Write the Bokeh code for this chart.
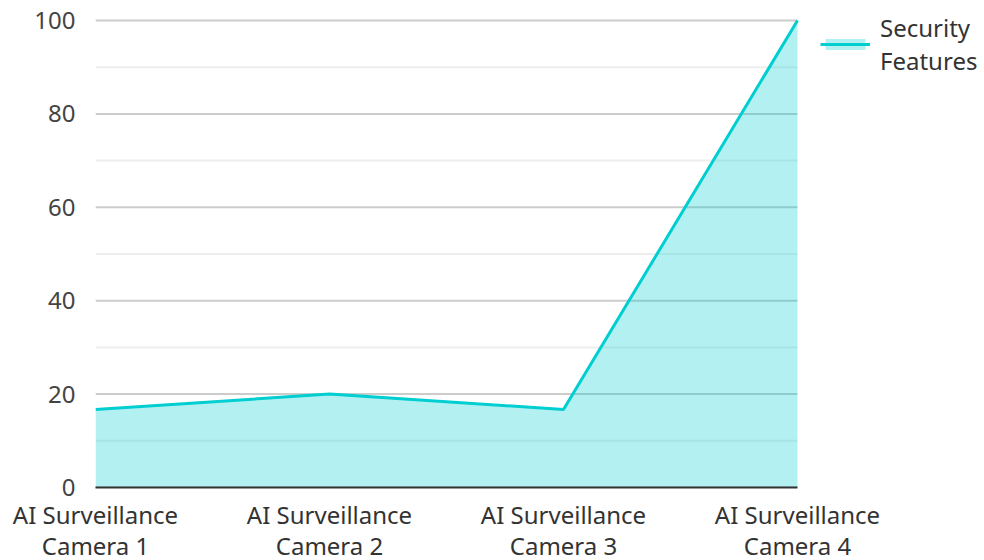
from bokeh.plotting import figure
from bokeh.models import ColumnDataSource, Legend, LegendItem, FixedTicker, Range1d
from bokeh.embed import file_html
from bokeh.resources import INLINE

categories = ["AI Surveillance\nCamera 1", "AI Surveillance\nCamera 2",
              "AI Surveillance\nCamera 3", "AI Surveillance\nCamera 4"]
values = [16.7, 20.0, 16.7, 100.0]
series_name = "Security\nFeatures"
y_ticks = [0, 20, 40, 60, 80, 100]
y_minor = [10, 30, 50, 70, 90]

xs = list(range(len(categories)))
src = ColumnDataSource(dict(x=xs, y=values, y0=[0] * len(values)))

FONT = "Noto Sans"
PLOT_W = 702          # width of the data area in px
EXTRA_W = 187         # room on the right for the legend, in px
PLOT_H = 467          # height of the data area in px
EXTRA_H = 20          # room above the data area (legend headroom), in px
x_end = xs[-1] + (xs[-1] - xs[0]) * EXTRA_W / PLOT_W
y_end = y_ticks[-1] + (y_ticks[-1] - y_ticks[0]) * EXTRA_H / PLOT_H

p = figure(frame_width=PLOT_W + EXTRA_W, frame_height=PLOT_H + EXTRA_H, output_backend="svg",
           toolbar_location=None,
           x_range=Range1d(xs[0], x_end), y_range=Range1d(y_ticks[0], y_end),
           min_border_left=95, min_border_right=0, min_border_top=0, min_border_bottom=70)
p.outline_line_color = None
p.xgrid.grid_line_color = None
p.ygrid.grid_line_color = None

# horizontal grid lines limited to the category span
p.segment(x0=[xs[0]] * len(y_minor), x1=[xs[-1]] * len(y_minor), y0=y_minor, y1=y_minor,
          line_color="#eeeeee", line_width=2, level="underlay")
p.segment(x0=[xs[0]] * len(y_ticks), x1=[xs[-1]] * len(y_ticks), y0=y_ticks, y1=y_ticks,
          line_color="#cccccc", line_width=2, level="underlay")

area = p.varea(x="x", y1="y0", y2="y", source=src, fill_color="#00CED1", fill_alpha=0.3)
line = p.line(x="x", y="y", source=src, line_color="#00CED1", line_width=3)

p.xaxis.ticker = FixedTicker(ticks=xs)
p.xaxis.bounds = (xs[0], xs[-1])
p.xaxis.major_label_overrides = {i: c for i, c in enumerate(categories)}
p.xaxis.major_tick_line_color = None
p.xaxis.minor_tick_line_color = None
p.xaxis.axis_line_color = "#333333"
p.xaxis.axis_line_width = 2
p.xaxis.major_label_text_font = FONT
p.xaxis.major_label_text_font_size = "24px"
p.xaxis.major_label_text_line_height = 0.95
p.xaxis.major_label_text_color = "#333333"
p.xaxis.major_label_standoff = 4

p.yaxis.ticker = FixedTicker(ticks=y_ticks, minor_ticks=y_minor)
p.yaxis.bounds = (y_ticks[0], y_ticks[-1])
p.yaxis.axis_line_color = None
p.yaxis.major_tick_line_color = None
p.yaxis.minor_tick_line_color = None
p.yaxis.major_label_text_font = FONT
p.yaxis.major_label_text_font_size = "24px"
p.yaxis.major_label_text_color = "#444444"
p.yaxis.major_label_standoff = 14

legend = Legend(items=[LegendItem(label=series_name, renderers=[area, line])],
                location=(PLOT_W + 23, 410), border_line_color=None,
                label_text_font=FONT, label_text_font_size="24px",
                label_text_line_height=0.9,
                label_text_color="#333333", glyph_width=50, glyph_height=14,
                margin=0, padding=0, spacing=0, label_standoff=10)
legend.background_fill_alpha = 0
p.add_layout(legend)

open("out.html", "w").write(file_html(p, INLINE))
